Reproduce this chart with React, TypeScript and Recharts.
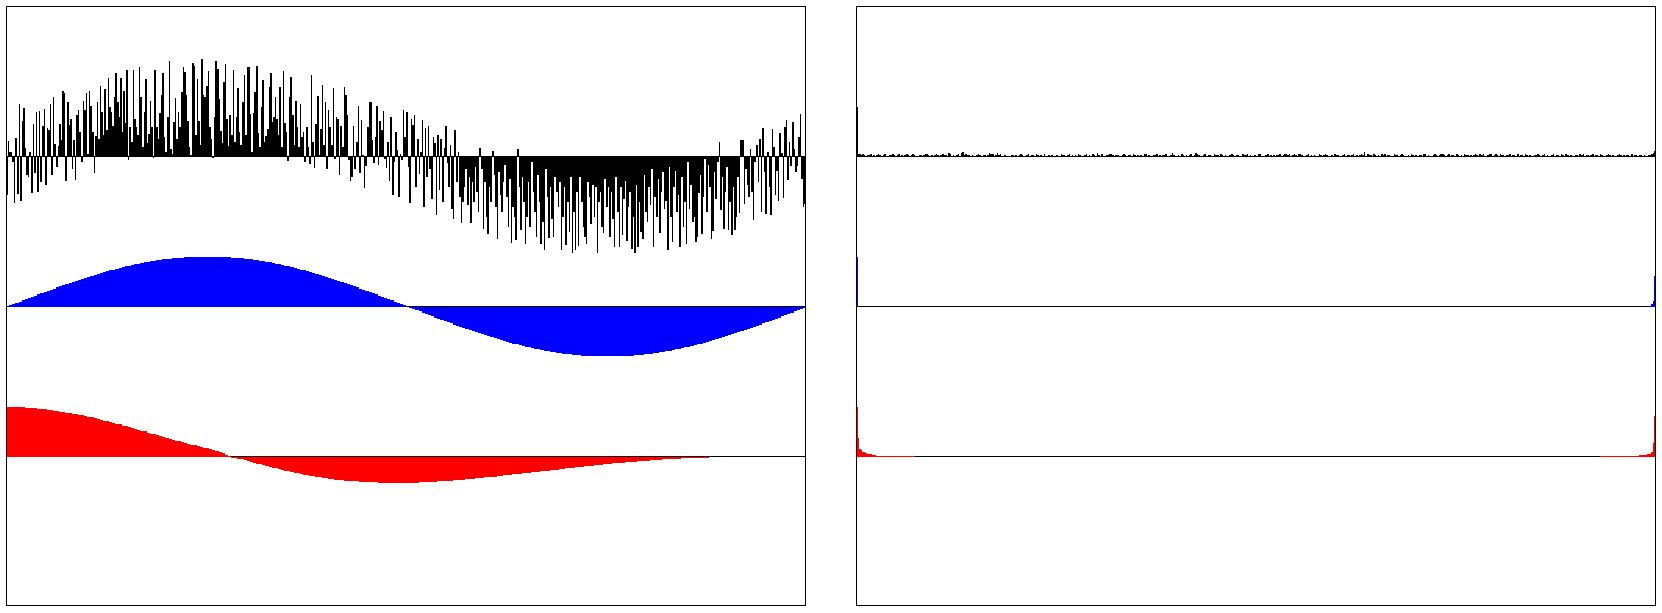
import { BarChart, Bar, XAxis, YAxis, ReferenceLine } from 'recharts';

const signal = [
  -38, 16, 5, 5, -5, -46, 19, -37, 53, -44, 36, 49, 9, -18, -20, 5,
  -36, 33, -16, 45, -35, 46, -25, 31, 48, -28, 29, 27, 53, -18, 60, 13,
  -10, 11, 33, 17, 66, 64, -24, 55, 32, 38, -12, 17, -23, 42, 47, 25,
  -5, 56, 47, 64, 3, 66, 51, 25, -16, 21, 55, 18, 71, 45, 22, 68,
  27, 79, 50, 45, 31, 60, 84, 55, 40, 79, 25, 66, 34, 87, -3, 30,
  15, 87, 38, 30, 22, 90, 60, 10, 45, 78, 14, 23, 56, 30, -1, 87,
  30, 18, 44, 62, 84, 20, 5, 40, 96, 8, 3, 35, 59, 18, 45, 30,
  65, 90, 85, 62, 36, 10, 2, 94, 91, 22, 78, 36, 12, 98, 62, 60,
  71, 86, 30, 18, -1, 40, 96, 88, 58, 26, 14, 75, 93, 38, 11, 42,
  22, 87, 15, 40, 69, 25, 12, 55, 82, 22, 90, 90, 43, 5, 44, 65,
  91, 24, 10, 50, 77, 15, 21, 28, 70, 84, 35, 40, 60, 38, 22, 70,
  10, 86, 34, 25, -4, 60, 80, 42, 12, 56, 30, 10, 53, 20, 25, -5,
  30, 10, -7, 82, 15, -11, 33, 61, 2, 28, 72, 12, 55, -12, 47, 30,
  12, 69, -2, 40, 38, -18, 31, 10, 70, 62, 42, -3, -24, -20, 31, -12,
  15, 51, -16, 37, 2, -31, -9, 30, 55, 55, 17, -6, 20, 51, -8, 36,
  27, 46, -2, -11, 15, -24, 40, -38, -5, 25, 7, -40, 3, -3, 47, 20,
  45, -10, -46, 38, 32, 42, -30, 18, -17, 5, 37, -50, 29, -20, 31, -12,
  -42, 20, 14, -58, 22, -33, 18, -45, 9, 31, -6, -30, 12, -52, -62, 27,
  -25, 5, -40, -66, -45, -30, -12, -48, -20, -66, -25, -45, -10, -35, -55, 9,
  -12, -72, -25, -60, -77, -30, -45, 6, -18, -50, -82, -15, -38, -55, -25, -8,
  -40, -70, -22, -86, -50, -60, -83, 8, -30, -73, -20, -45, -87, -60, -25, -70,
  -5, -35, -55, -80, -18, -45, -87, -65, -93, -12, -40, -81, -30, -62, -80, -20,
  -35, -50, -25, -93, -60, -30, -88, -45, -75, -20, -96, -55, -93, -35, -89, -20,
  -45, -70, -80, -87, -25, -40, -67, -28, -60, -30, -96, -45, -35, -70, -76, -22,
  -50, -30, -80, -35, -62, -90, -20, -55, -90, -30, -78, -42, -24, -84, -50, -35,
  -92, -60, -96, -28, -90, -45, -75, -82, -18, -55, -65, -30, -48, -12, -90, -40,
  -60, -22, -76, -35, -15, -52, -44, -93, -10, -60, -85, -30, -14, -55, -38, -90,
  -20, -70, -45, -87, -5, -52, -28, -65, -60, -85, -80, -36, -18, -77, -40, -2,
  -55, -8, -30, -82, -74, -15, -42, -5, 15, -53, -20, -72, -35, -10, -73, -45,
  -78, -30, -73, -60, -20, -56, 17, 17, -47, -12, -28, -40, 8, -35, -63, -5,
  12, -25, 18, -55, 29, -15, -57, 5, -30, -58, 28, 10, -38, -14, -44, 24,
  4, -41, 30, 37, -23, 15, -9, 35, 8, -15, -9, 20, 43, -22, -50, -47,
];

const sineWave = [
  0, 1.2, 2.5, 3.7, 4.9, 6.1, 7.3, 8.5, 9.8, 11, 12.2, 13.3, 14.5, 15.7, 16.8, 18,
  19.1, 20.3, 21.4, 22.5, 23.6, 24.6, 25.7, 26.8, 27.8, 28.8, 29.8, 30.8, 31.7, 32.7, 33.6, 34.5,
  35.4, 36.2, 37, 37.9, 38.7, 39.4, 40.2, 40.9, 41.6, 42.2, 42.9, 43.5, 44.1, 44.7, 45.2, 45.7,
  46.2, 46.7, 47.1, 47.5, 47.8, 48.2, 48.5, 48.8, 49, 49.3, 49.5, 49.5, 49.5, 49.5, 49.5, 49.5,
  49.5, 49.5, 49.5, 49.5, 49.5, 49.5, 49.5, 49.3, 49, 48.8, 48.5, 48.2, 47.8, 47.5, 47.1, 46.7,
  46.2, 45.7, 45.2, 44.7, 44.1, 43.5, 42.9, 42.2, 41.6, 40.9, 40.2, 39.4, 38.7, 37.9, 37, 36.2,
  35.4, 34.5, 33.6, 32.7, 31.7, 30.8, 29.8, 28.8, 27.8, 26.8, 25.7, 24.6, 23.6, 22.5, 21.4, 20.3,
  19.1, 18, 16.8, 15.7, 14.5, 13.3, 12.2, 11, 9.8, 8.5, 7.3, 6.1, 4.9, 3.7, 2.5, 1.2,
  0, -1.2, -2.5, -3.7, -4.9, -6.1, -7.3, -8.5, -9.8, -11, -12.2, -13.3, -14.5, -15.7, -16.8, -18,
  -19.1, -20.3, -21.4, -22.5, -23.6, -24.6, -25.7, -26.8, -27.8, -28.8, -29.8, -30.8, -31.7, -32.7, -33.6, -34.5,
  -35.4, -36.2, -37, -37.9, -38.7, -39.4, -40.2, -40.9, -41.6, -42.2, -42.9, -43.5, -44.1, -44.7, -45.2, -45.7,
  -46.2, -46.7, -47.1, -47.5, -47.8, -48.2, -48.5, -48.8, -49, -49.3, -49.5, -49.5, -49.5, -49.5, -49.5, -49.5,
  -49.5, -49.5, -49.5, -49.5, -49.5, -49.5, -49.5, -49.3, -49, -48.8, -48.5, -48.2, -47.8, -47.5, -47.1, -46.7,
  -46.2, -45.7, -45.2, -44.7, -44.1, -43.5, -42.9, -42.2, -41.6, -40.9, -40.2, -39.4, -38.7, -37.9, -37, -36.2,
  -35.4, -34.5, -33.6, -32.7, -31.7, -30.8, -29.8, -28.8, -27.8, -26.8, -25.7, -24.6, -23.6, -22.5, -21.4, -20.3,
  -19.1, -18, -16.8, -15.7, -14.5, -13.3, -12.2, -11, -9.8, -8.5, -7.3, -6.1, -4.9, -3.7, -2.5, -1.2,
];

const dampedWave = [
  49.5, 49.5, 49.5, 49.5, 49.5, 49.5, 49, 49, 48.5, 48.5, 48, 47.5, 47.5, 47, 46.5, 46,
  45.5, 45, 44.5, 44, 43.5, 43, 42.5, 42, 41.5, 40.5, 40, 39.5, 38.5, 37.5, 37, 36,
  35.5, 34.5, 34, 33, 32.5, 31, 30.5, 30, 29, 28, 27, 26, 25.5, 24, 23, 22.5,
  21.5, 20.5, 20, 19, 18, 17, 16, 15.5, 14.5, 14, 13, 12, 11.5, 10.5, 10, 9,
  8.5, 7.5, 7, 6, 5, 3.5, 2, 1, -1, -1.5, -2.2, -2.9, -3.5, -4, -5, -6,
  -7, -7.8, -8.6, -9.2, -10, -11, -11.7, -12.5, -13.2, -14, -14.7, -15.3, -16, -16.7, -17.3, -18,
  -18.5, -19.2, -19.8, -20.3, -20.8, -21.3, -21.7, -22.2, -22.7, -23.1, -23.4, -23.7, -24, -24.2, -24.4, -24.6,
  -24.9, -25.1, -25.3, -25.5, -25.6, -25.8, -25.9, -26, -26, -26.2, -26.3, -26.5, -26.6, -26.8, -26.9, -26.9,
  -26.7, -26.4, -26.1, -26, -25.9, -25.7, -25.6, -25.4, -25.3, -25.1, -24.9, -24.8, -24.6, -24.3, -24.1, -23.9,
  -23.6, -23.3, -23.1, -22.7, -22.4, -22.1, -21.8, -21.5, -21.2, -20.9, -20.6, -20.3, -20, -19.6, -19.2, -18.9,
  -18.5, -18.1, -17.8, -17.5, -17.3, -16.9, -16.5, -16.2, -15.9, -15.5, -15.2, -14.8, -14.5, -14, -13.6, -13.3,
  -13, -12.6, -12.3, -11.9, -11.5, -11.1, -10.8, -10.4, -10.1, -9.8, -9.4, -9.1, -8.8, -8.4, -8.1, -7.8,
  -7.5, -7.2, -6.9, -6.6, -6.3, -6, -5.7, -5.5, -5.2, -5, -4.7, -4.5, -4.2, -4, -3.8, -3.5,
  -3.3, -3.1, -2.9, -2.7, -2.5, -2.3, -2.2, -2, -1.8, -1.7, -1.5, -1.4, -1.3, -1.2, -1.1, -1,
  -1, -0.9, -0.9, -0.8, -0.8, -0.7, 0, 0, 0, 0, 0, 0, 0, 0, 0, 0,
  0, 0, 0, 0, 0, 0, 0, 0, 0, 0, 0, 0, 0, 0, 0, 0,
];

// magnitudes for the right panel
const signalSpectrum = [
  49.5, 2.5, 2.5, 1.5, 2.5, 1.5, 0.5, 1.5, 1.5, 2.5, 0.5, 1.5, 0, 1.5, 2.5, 1.5,
  0.5, 1.5, 2.5, 0.5, 0, 1.5, 1.5, 2.5, 1.5, 0.5, 1.5, 2.5, 0.5, 1.5, 0, 1.5,
  2.5, 1.5, 0.5, 1.5, 2.5, 1.5, 0, 0.5, 1.5, 1.5, 0.5, 1.5, 2.5, 2.5, 1.5, 0.5,
  1.5, 0, 1.5, 2.5, 1.5, 0.5, 1.5, 2.5, 1.5, 1.5, 0.5, 3.5, 2.5, 0.5, 1.5, 0,
  1.5, 2.5, 0.5, 3.5, 4.5, 1.5, 2.5, 1.5, 1.5, 0.5, 1.5, 0, 0.5, 1.5, 2.5, 1.5,
  0.5, 1.5, 1.5, 0, 1.5, 3.5, 2.5, 2.5, 0.5, 1.5, 3.5, 1.5, 2.5, 0.5, 0, 1.5,
  0.5, 0.5, 0.5, 1.5, 1.5, 0.5, 1.5, 0.5, 1.5, 2.5, 1.5, 0.5, 0, 1.5, 2.5, 0.5,
  1.5, 1.5, 0, 2.5, 1.5, 0.5, 1.5, 0.5, 2.5, 0, 0.5, 1.5, 0.5, 1.5, 0.5, 0,
  1.5, 0.5, 0.5, 2.5, 1.5, 1.5, 0.5, 1.5, 2.5, 0, 1.5, 0.5, 1.5, 0.5, 2.5, 1.5,
  0.5, 0, 1.5, 2.5, 0.5, 1.5, 0, 2.5, 1.5, 0.5, 3.5, 1.5, 0.5, 2.5, 0, 0.5,
  1.5, 1.5, 2.5, 2.5, 1.5, 0.5, 1.5, 1.5, 0.5, 0, 1.5, 2.5, 1.5, 0.5, 1.5, 1.5,
  0.5, 2.5, 1.5, 0.5, 1.5, 0, 1.5, 0.5, 2.5, 2.5, 0.5, 1.5, 0, 0.5, 1.5, 1.5,
  2.5, 0.5, 1.5, 0, 1.5, 1.5, 2.5, 0.5, 0.5, 1.5, 3.5, 1.5, 0, 0.5, 1.5, 0.5,
  2.5, 1.5, 0.5, 1.5, 0, 1.5, 2.5, 0.5, 1.5, 3.5, 2.5, 1.5, 0.5, 0, 1.5, 2.5,
  0.5, 1.5, 1.5, 0.5, 0, 2.5, 1.5, 1.5, 0.5, 2.5, 1.5, 0.5, 1.5, 0.5, 0, 1.5,
  2.5, 1.5, 0.5, 1.5, 1.5, 0, 0.5, 2.5, 1.5, 1.5, 2.5, 0.5, 1.5, 0, 0.5, 1.5,
  0.5, 2.5, 2.5, 0.5, 0, 0, 1.5, 2.5, 0.5, 1.5, 0, 1.5, 0.5, 1.5, 1.5, 2.5,
  0.5, 1.5, 2.5, 2.5, 1.5, 2.5, 0.5, 1.5, 2.5, 1.5, 0.5, 2.5, 2.5, 1.5, 0.5, 0,
  1.5, 2.5, 0.5, 1.5, 0, 1.5, 0.5, 0.5, 2.5, 1.5, 0, 1.5, 2.5, 1.5, 0.5, 0.5,
  1.5, 0, 2.5, 1.5, 1.5, 0.5, 0, 1.5, 2.5, 0.5, 1.5, 1.5, 0.5, 1.5, 2.5, 0,
  1.5, 0.5, 1.5, 2.5, 1.5, 4.5, 0.5, 2.5, 1.5, 1.5, 0.5, 2.5, 1.5, 0.5, 1.5, 0,
  2.5, 1.5, 2.5, 0.5, 1.5, 1.5, 0, 0.5, 2.5, 1.5, 1.5, 0.5, 1.5, 2.5, 1.5, 0,
  0.5, 1.5, 0.5, 2.5, 1.5, 0, 1.5, 0.5, 1.5, 1.5, 0, 2.5, 2.5, 0.5, 1.5, 0.5,
  0, 1.5, 2.5, 1.5, 0.5, 1.5, 2.5, 2.5, 1.5, 0.5, 1.5, 2.5, 0, 1.5, 1.5, 0.5,
  2.5, 1.5, 0.5, 1.5, 0, 2.5, 1.5, 1.5, 0.5, 1.5, 0, 1.5, 2.5, 1.5, 0.5, 2.5,
  1.5, 2.5, 0.5, 0, 1.5, 2.5, 2.5, 0.5, 1.5, 2.5, 1.5, 0.5, 2.5, 1.5, 1.5, 0,
  1.5, 1.5, 2.5, 0.5, 1.5, 1.5, 0.5, 2.5, 0, 1.5, 1.5, 0.5, 2.5, 1.5, 0.5, 1.5,
  0, 0.5, 1.5, 1.5, 2.5, 1.5, 0.5, 1.5, 2.5, 0, 1.5, 0.5, 0.5, 1.5, 2.5, 0.5,
  1.5, 1.5, 0, 2.5, 1.5, 0.5, 2.5, 1.5, 0.5, 1.5, 0, 0.5, 1.5, 1.5, 0.5, 2.5,
  1.5, 2.5, 0.5, 1.5, 1.5, 0, 1.5, 2.5, 0.5, 1.5, 1.5, 0.5, 2.5, 1.5, 0, 0.5,
  1.5, 2.5, 1.5, 0.5, 1.5, 0, 0.5, 1.5, 2.5, 1.5, 0.5, 1.5, 0, 1.5, 1.5, 0.5,
  2.5, 0.5, 1.5, 1.5, 0, 1.5, 1.5, 0.5, 1.5, 0.5, 0, 1.5, 1.5, 2.5, 3.5, 5.5,
];

const sineSpectrum = [
  49.5, 0, 0, 0, 0, 0, 0, 0, 0, 0, 0, 0, 0, 0, 0, 0,
  0, 0, 0, 0, 0, 0, 0, 0, 0, 0, 0, 0, 0, 0, 0, 0,
  0, 0, 0, 0, 0, 0, 0, 0, 0, 0, 0, 0, 0, 0, 0, 0,
  0, 0, 0, 0, 0, 0, 0, 0, 0, 0, 0, 0, 0, 0, 0, 0,
  0, 0, 0, 0, 0, 0, 0, 0, 0, 0, 0, 0, 0, 0, 0, 0,
  0, 0, 0, 0, 0, 0, 0, 0, 0, 0, 0, 0, 0, 0, 0, 0,
  0, 0, 0, 0, 0, 0, 0, 0, 0, 0, 0, 0, 0, 0, 0, 0,
  0, 0, 0, 0, 0, 0, 0, 0, 0, 0, 0, 0, 0, 0, 0, 0,
  0, 0, 0, 0, 0, 0, 0, 0, 0, 0, 0, 0, 0, 0, 0, 0,
  0, 0, 0, 0, 0, 0, 0, 0, 0, 0, 0, 0, 0, 0, 0, 0,
  0, 0, 0, 0, 0, 0, 0, 0, 0, 0, 0, 0, 0, 0, 0, 0,
  0, 0, 0, 0, 0, 0, 0, 0, 0, 0, 0, 0, 0, 0, 0, 0,
  0, 0, 0, 0, 0, 0, 0, 0, 0, 0, 0, 0, 0, 0, 0, 0,
  0, 0, 0, 0, 0, 0, 0, 0, 0, 0, 0, 0, 0, 0, 0, 0,
  0, 0, 0, 0, 0, 0, 0, 0, 0, 0, 0, 0, 0, 0, 0, 0,
  0, 0, 0, 0, 0, 0, 0, 0, 0, 0, 0, 0, 0, 0, 0, 0,
  0, 0, 0, 0, 0, 0, 0, 0, 0, 0, 0, 0, 0, 0, 0, 0,
  0, 0, 0, 0, 0, 0, 0, 0, 0, 0, 0, 0, 0, 0, 0, 0,
  0, 0, 0, 0, 0, 0, 0, 0, 0, 0, 0, 0, 0, 0, 0, 0,
  0, 0, 0, 0, 0, 0, 0, 0, 0, 0, 0, 0, 0, 0, 0, 0,
  0, 0, 0, 0, 0, 0, 0, 0, 0, 0, 0, 0, 0, 0, 0, 0,
  0, 0, 0, 0, 0, 0, 0, 0, 0, 0, 0, 0, 0, 0, 0, 0,
  0, 0, 0, 0, 0, 0, 0, 0, 0, 0, 0, 0, 0, 0, 0, 0,
  0, 0, 0, 0, 0, 0, 0, 0, 0, 0, 0, 0, 0, 0, 0, 0,
  0, 0, 0, 0, 0, 0, 0, 0, 0, 0, 0, 0, 0, 0, 0, 0,
  0, 0, 0, 0, 0, 0, 0, 0, 0, 0, 0, 0, 0, 0, 0, 0,
  0, 0, 0, 0, 0, 0, 0, 0, 0, 0, 0, 0, 0, 0, 0, 0,
  0, 0, 0, 0, 0, 0, 0, 0, 0, 0, 0, 0, 0, 0, 0, 0,
  0, 0, 0, 0, 0, 0, 0, 0, 0, 0, 0, 0, 0, 0, 0, 0,
  0, 0, 0, 0, 0, 0, 0, 0, 0, 0, 0, 0, 0, 0, 0, 0,
  0, 0, 0, 0, 0, 0, 0, 0, 0, 0, 0, 0, 0, 0, 0, 0,
  0, 0, 0, 0, 0, 0, 0, 0, 0, 0, 0, 0.5, 0.5, 2.5, 5.5, 30.5,
];

const dampedSpectrum = [
  49.5, 18.5, 7.5, 6.5, 4.5, 4.5, 3.5, 2.5, 2.5, 2.5, 1.5, 1.5, 1.5, 0.5, 0.5, 0.5,
  0.5, 0.5, 0.5, 0.5, 0.5, 0.5, 0.5, 0.5, 0.5, 0.5, 0.5, 0.5, 0.5, 0.5, 0.5, 0.5,
  0.5, 0.5, 0.5, 0.5, 0.5, 0.5, 0, 0, 0, 0, 0, 0, 0, 0, 0, 0,
  0, 0, 0, 0, 0, 0, 0, 0, 0, 0, 0, 0, 0, 0, 0, 0,
  0, 0, 0, 0, 0, 0, 0, 0, 0, 0, 0, 0, 0, 0, 0, 0,
  0, 0, 0, 0, 0, 0, 0, 0, 0, 0, 0, 0, 0, 0, 0, 0,
  0, 0, 0, 0, 0, 0, 0, 0, 0, 0, 0, 0, 0, 0, 0, 0,
  0, 0, 0, 0, 0, 0, 0, 0, 0, 0, 0, 0, 0, 0, 0, 0,
  0, 0, 0, 0, 0, 0, 0, 0, 0, 0, 0, 0, 0, 0, 0, 0,
  0, 0, 0, 0, 0, 0, 0, 0, 0, 0, 0, 0, 0, 0, 0, 0,
  0, 0, 0, 0, 0, 0, 0, 0, 0, 0, 0, 0, 0, 0, 0, 0,
  0, 0, 0, 0, 0, 0, 0, 0, 0, 0, 0, 0, 0, 0, 0, 0,
  0, 0, 0, 0, 0, 0, 0, 0, 0, 0, 0, 0, 0, 0, 0, 0,
  0, 0, 0, 0, 0, 0, 0, 0, 0, 0, 0, 0, 0, 0, 0, 0,
  0, 0, 0, 0, 0, 0, 0, 0, 0, 0, 0, 0, 0, 0, 0, 0,
  0, 0, 0, 0, 0, 0, 0, 0, 0, 0, 0, 0, 0, 0, 0, 0,
  0, 0, 0, 0, 0, 0, 0, 0, 0, 0, 0, 0, 0, 0, 0, 0,
  0, 0, 0, 0, 0, 0, 0, 0, 0, 0, 0, 0, 0, 0, 0, 0,
  0, 0, 0, 0, 0, 0, 0, 0, 0, 0, 0, 0, 0, 0, 0, 0,
  0, 0, 0, 0, 0, 0, 0, 0, 0, 0, 0, 0, 0, 0, 0, 0,
  0, 0, 0, 0, 0, 0, 0, 0, 0, 0, 0, 0, 0, 0, 0, 0,
  0, 0, 0, 0, 0, 0, 0, 0, 0, 0, 0, 0, 0, 0, 0, 0,
  0, 0, 0, 0, 0, 0, 0, 0, 0, 0, 0, 0, 0, 0, 0, 0,
  0, 0, 0, 0, 0, 0, 0, 0, 0, 0, 0, 0, 0, 0, 0, 0,
  0, 0, 0, 0, 0, 0, 0, 0, 0, 0, 0, 0, 0, 0, 0, 0,
  0, 0, 0, 0, 0, 0, 0, 0, 0, 0, 0, 0, 0, 0, 0, 0,
  0, 0, 0, 0, 0, 0, 0, 0, 0, 0, 0, 0, 0, 0, 0, 0,
  0, 0, 0, 0, 0, 0, 0, 0, 0, 0, 0, 0, 0, 0, 0, 0,
  0, 0, 0, 0, 0, 0, 0, 0, 0, 0, 0, 0, 0, 0, 0, 0,
  0, 0, 0, 0, 0, 0, 0, 0, 0, 0, 0, 0, 0.5, 0.5, 0.5, 0.5,
  0.5, 0.5, 0.5, 0.5, 0.5, 0.5, 0.5, 0.5, 0.5, 0.5, 0.5, 0.5, 0.5, 0.5, 0.5, 0.5,
  0.5, 0.5, 0.5, 0.5, 0.5, 1.5, 1.5, 1.5, 1.5, 1.5, 2.5, 2.5, 3, 4.5, 13.5, 40.5,
];

const baselines = [0, -150, -300];

const PANEL_W = 800;
const PANEL_H = 600;
const chartStyle = { position: 'absolute', left: 0, top: 0 } as const;
const noMargin = { top: 0, right: 0, bottom: 0, left: 0 };

// sits under the bars, so red and blue can paint over the line
function Baselines() {
  return (
    <BarChart width={PANEL_W} height={PANEL_H} data={[{ k: 0, v: 0 }]} margin={noMargin} style={chartStyle}>
      <XAxis dataKey="k" hide />
      <YAxis hide domain={[150.5 - PANEL_H, 150.5]} allowDataOverflow />
      {baselines.map((y) => (
        <ReferenceLine key={y} y={y} stroke="#000" strokeWidth={1} />
      ))}
      <Bar dataKey="v" isAnimationActive={false} />
    </BarChart>
  );
}

function WaveRow({ values, zeroAt, color }: { values: number[]; zeroAt: number; color: string }) {
  const rows = values.map((v, k) => ({ k, v }));
  const slot = PANEL_W / values.length;

  // recharts floors the bar width, so widen back to the full band.
  // positive bars also cover the baseline pixel, like the original
  const waveBar = ({ x, y, height, fill }: any) => {
    if (!height) return null;
    return height > 0 ? (
      <rect x={x} y={y} width={slot} height={height + 0.5} fill={fill} shapeRendering="crispEdges" />
    ) : (
      <rect x={x} y={y + height} width={slot} height={-height} fill={fill} shapeRendering="crispEdges" />
    );
  };

  return (
    <BarChart
      width={PANEL_W}
      height={PANEL_H}
      data={rows}
      margin={noMargin}
      barCategoryGap={0}
      barGap={0}
      style={chartStyle}
    >
      <XAxis dataKey="k" hide />
      <YAxis hide domain={[zeroAt - PANEL_H, zeroAt]} allowDataOverflow />
      <Bar dataKey="v" fill={color} shape={waveBar} isAnimationActive={false} />
    </BarChart>
  );
}

function Panel({ left, series }: { left: number; series: number[][] }) {
  const colors = ['#000000', '#0000ff', '#ff0000'];
  const zeros = [150.5, 300.5, 450.5];
  return (
    <div style={{ position: 'absolute', left, top: 6, width: PANEL_W, height: PANEL_H }}>
      <Baselines />
      {series.map((values, i) => (
        <WaveRow key={i} values={values} zeroAt={zeros[i]} color={colors[i]} />
      ))}
      <div
        style={{
          position: 'absolute',
          inset: 0,
          boxSizing: 'border-box',
          border: '1px solid #000',
        }}
      />
    </div>
  );
}

export default function App() {
  return (
    <div style={{ position: 'absolute', left: 0, top: 0, width: 1662, height: 613, background: '#fff' }}>
      <Panel left={6} series={[signal, sineWave, dampedWave]} />
      <Panel left={856} series={[signalSpectrum, sineSpectrum, dampedSpectrum]} />
    </div>
  );
}
